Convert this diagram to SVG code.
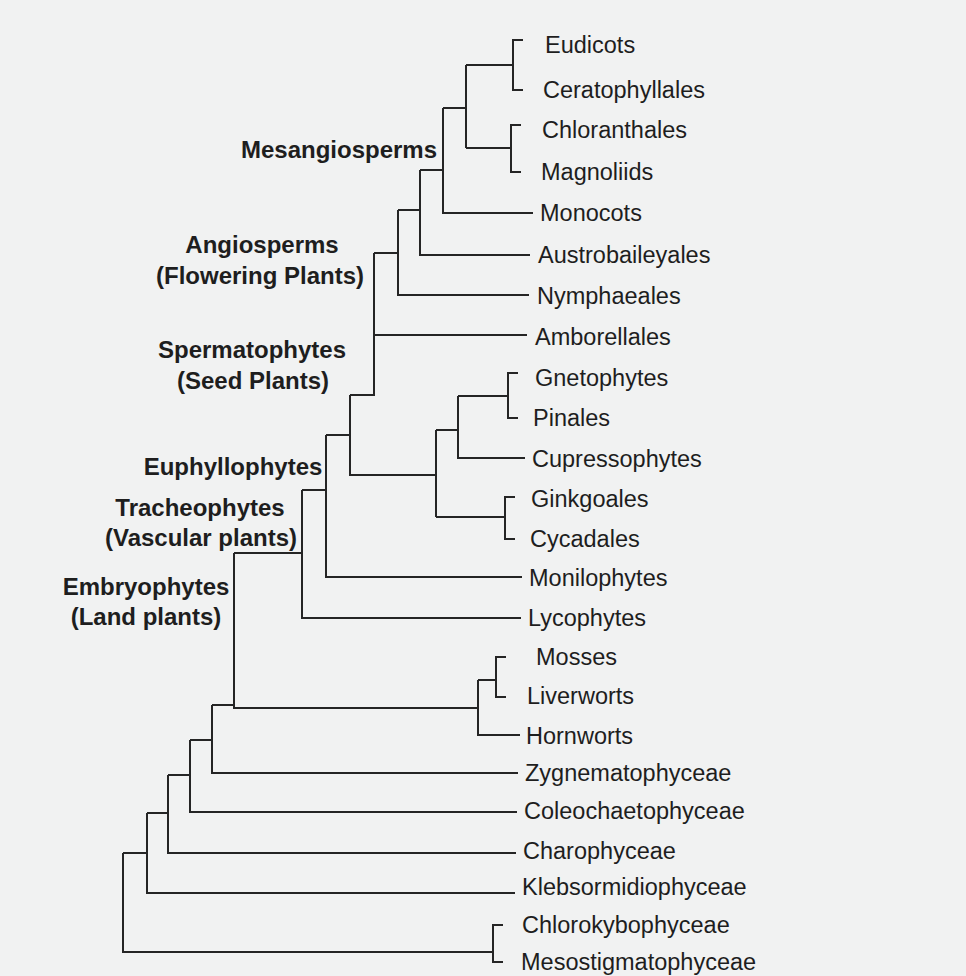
<svg xmlns="http://www.w3.org/2000/svg" width="966" height="976" viewBox="0 0 966 976">
<style>
.t{font-family:"Liberation Sans",Arial,sans-serif;font-size:23.5px;fill:#1e1e1e}
.b{font-family:"Liberation Sans",Arial,sans-serif;font-size:24px;font-weight:bold;fill:#1e1e1e}
.l{fill:none;stroke:#252525;stroke-width:2}
</style>
<rect width="966" height="976" fill="#f1f2f2"/>
<g id="connectors" class="l">
<path d="M523,40H513V90H523M466,65H513"/>
<path d="M521,125H511V172H521M466,148H511"/>
<path d="M466,65V148M443,108H466"/>
<path d="M443,108V213H533M420,170H443"/>
<path d="M420,170V255H530M398,210H420"/>
<path d="M398,210V295H529M374,253H398"/>
<path d="M374,253V335H527M350,395H374V335"/>
<path d="M350,395V475H436"/>
<path d="M518,373H508V418H518M458,396H508"/>
<path d="M458,396V458H525M436,430H458"/>
<path d="M515,497H505V539H515M436,517H505"/>
<path d="M436,430V517"/>
<path d="M326,435H350M326,435V577H522M302,490H326"/>
<path d="M302,490V618H521M234,553H302"/>
<path d="M506,657H496V697H506M478,680H496M478,680V735H520"/>
<path d="M234,553V708H478"/>
<path d="M212,705H234M212,705V773H518"/>
<path d="M190,740H212M190,740V812H517"/>
<path d="M168,775H190M168,775V853H516"/>
<path d="M147,813H168M147,813V893H515"/>
<path d="M123,853H147M123,853V952H493"/>
<path d="M503,925H493V962H503"/>
</g>
<g id="leaves" class="t">
<text x="545" y="53">Eudicots</text>
<text x="543" y="98">Ceratophyllales</text>
<text x="542" y="138">Chloranthales</text>
<text x="541" y="180">Magnoliids</text>
<text x="540" y="221">Monocots</text>
<text x="538" y="263">Austrobaileyales</text>
<text x="537" y="304">Nymphaeales</text>
<text x="535" y="345">Amborellales</text>
<text x="535" y="386">Gnetophytes</text>
<text x="533" y="426">Pinales</text>
<text x="532" y="467">Cupressophytes</text>
<text x="531" y="507">Ginkgoales</text>
<text x="530" y="547">Cycadales</text>
<text x="529" y="586">Monilophytes</text>
<text x="528" y="626">Lycophytes</text>
<text x="536" y="665">Mosses</text>
<text x="527" y="704">Liverworts</text>
<text x="526" y="744">Hornworts</text>
<text x="525" y="781">Zygnematophyceae</text>
<text x="524" y="819">Coleochaetophyceae</text>
<text x="523" y="859">Charophyceae</text>
<text x="522" y="895">Klebsormidiophyceae</text>
<text x="522" y="933">Chlorokybophyceae</text>
<text x="521" y="970">Mesostigmatophyceae</text>
</g>
<g id="clades" class="b" text-anchor="middle">
<text x="339" y="158">Mesangiosperms</text>
<text x="262" y="253">Angiosperms</text>
<text x="260" y="284">(Flowering Plants)</text>
<text x="252" y="358">Spermatophytes</text>
<text x="253" y="389">(Seed Plants)</text>
<text x="233" y="475">Euphyllophytes</text>
<text x="200" y="516">Tracheophytes</text>
<text x="201" y="546">(Vascular plants)</text>
<text x="146" y="595">Embryophytes</text>
<text x="146" y="625">(Land plants)</text>
</g>
</svg>
